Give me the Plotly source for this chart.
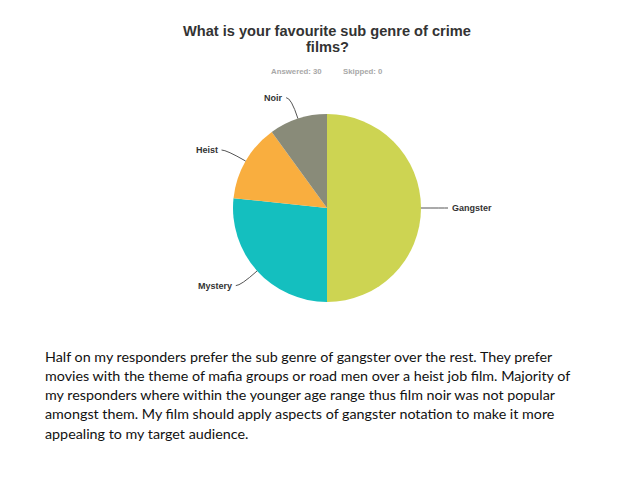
import math
import plotly.graph_objects as go

# ---- data ----
genres = ["Gangster", "Mystery", "Heist", "Noir"]
counts = [15, 8, 4, 3]
colors = ["#CDD452", "#14BFBF", "#F9AE3F", "#898B79"]
title_lines = ["What is your favourite sub genre of crime", "films?"]
answered = 30
skipped = 0
paragraph = [
    "Half on my responders prefer the sub genre of gangster over the rest. They prefer",
    "movies with the theme of mafia groups or road men over a heist job film. Majority of",
    "my responders where within the younger age range thus film noir was not popular",
    "amongst them. My film should apply aspects of gangster notation to make it more",
    "appealing to my target audience.",
]

W, H = 638, 478
OFF = 8  # page body margin
CX, CY, R = 327, 208, 94


def px(x):
    return (x - OFF) / W


def py(y):
    return 1 - (y - OFF) / H


fig = go.Figure()
fig.add_trace(go.Pie(
    labels=genres, values=counts, sort=False, direction="clockwise", rotation=0,
    marker=dict(colors=colors, line=dict(width=0)),
    textinfo="none", hoverinfo="label+value+percent", showlegend=False,
    domain=dict(x=[px(CX - R), px(CX + R)], y=[py(CY + R), py(CY - R)]),
))

annotations = []
shapes = []
lab_font = dict(family="Liberation Sans, Arial", size=9, color="#333333")
total = sum(counts)
cum = 0
for g, c in zip(genres, counts):
    mid = (cum + c / 2) / total * 2 * math.pi
    cum += c
    sx, sy = math.sin(mid), -math.cos(mid)
    x0, y0 = CX + R * sx, CY + R * sy
    x1, y1 = CX + (R + 22) * sx, CY + (R + 22) * sy
    side = 1 if sx > 0.01 else -1
    x2, y2 = x1 + 5 * side, y1
    path = (f"M {px(x0)} {py(y0)} Q {px(x1)} {py(y1)} {px(x2)} {py(y2)}")
    shapes.append(dict(type="path", xref="paper", yref="paper", path=path,
                       line=dict(color="#555555", width=1)))
    annotations.append(dict(
        x=px(x2 + 2 * side), y=py(y2), xref="paper", yref="paper",
        text=f"<b>{g}</b>", showarrow=False,
        xanchor="left" if side > 0 else "right", yanchor="middle",
        font=lab_font,
    ))

# title
for i, t in enumerate(title_lines):
    annotations.append(dict(
        x=px(327), y=py(31 + 16 * i), xref="paper", yref="paper",
        text=f"<b>{t}</b>", showarrow=False, xanchor="center", yanchor="middle",
        font=dict(family="Liberation Sans, Arial", size=14.6, color="#333333"),
    ))
sub_font = dict(family="Liberation Sans, Arial", size=7.8, color="#A8A8A8")
annotations.append(dict(x=px(324), y=py(71), xref="paper", yref="paper",
                        text=f"<b>Answered: {answered}</b>", showarrow=False,
                        xanchor="right", yanchor="middle", font=sub_font))
annotations.append(dict(x=px(341), y=py(71), xref="paper", yref="paper",
                        text=f"<b>Skipped: {skipped}</b>", showarrow=False,
                        xanchor="left", yanchor="middle", font=sub_font))

# paragraph
for i, line in enumerate(paragraph):
    annotations.append(dict(
        x=px(43), y=py(356 + 19.3 * i), xref="paper", yref="paper",
        text=line, showarrow=False, xanchor="left", yanchor="middle",
        font=dict(family="Lato", size=14.3, color="#111111"),
    ))

fig.update_layout(
    width=W, height=H, margin=dict(l=0, r=0, t=0, b=0),
    paper_bgcolor="white", plot_bgcolor="white",
    annotations=annotations, shapes=shapes,
)
fig.write_html("out.html")
